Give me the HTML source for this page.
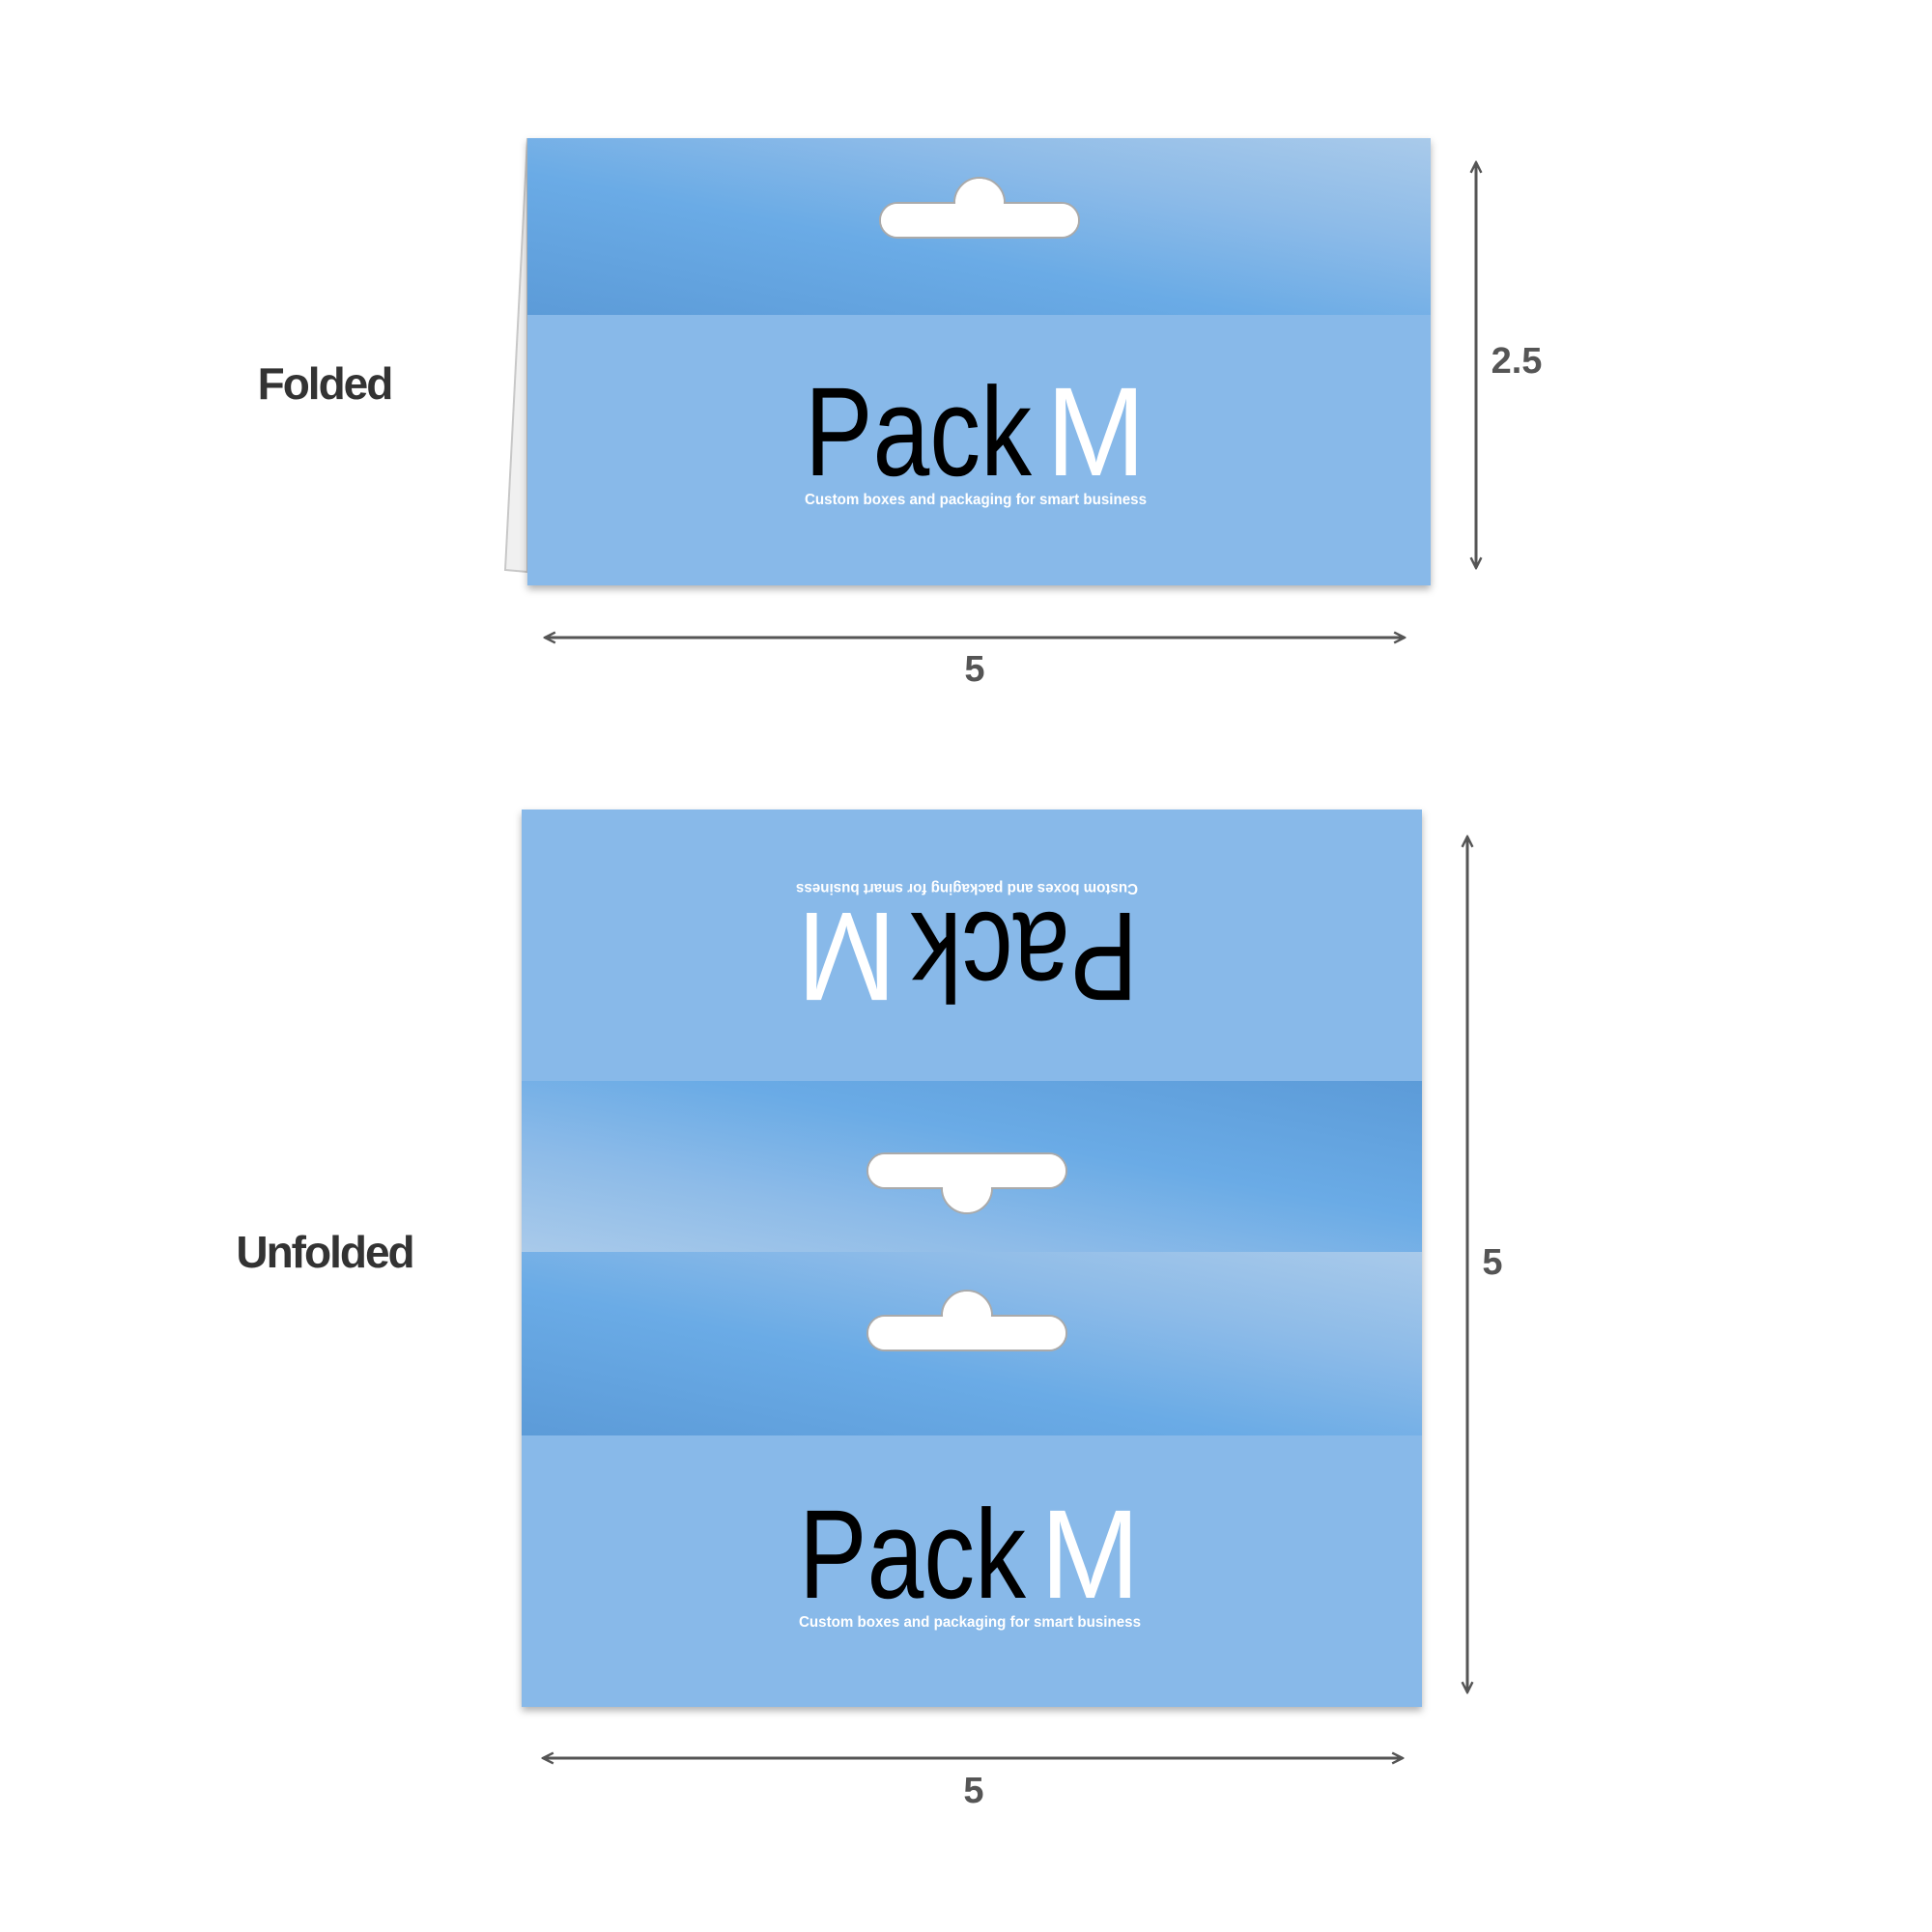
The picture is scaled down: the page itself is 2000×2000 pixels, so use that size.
<!DOCTYPE html>
<html><head><meta charset="utf-8"><style>html,body{margin:0;padding:0;background:#fff}svg{display:block}</style></head>
<body>
<svg width="2000" height="2000" viewBox="0 0 2000 2000" xmlns="http://www.w3.org/2000/svg">
<defs>
<linearGradient id="gA" x1="0" y1="1" x2="1" y2="0">
<stop offset="0" stop-color="#5c9bd8"/><stop offset="0.4" stop-color="#6aabe6"/><stop offset="0.7" stop-color="#8dbbe8"/><stop offset="1" stop-color="#a9caea"/>
</linearGradient>
<linearGradient id="gB" x1="0" y1="1" x2="1" y2="0">
<stop offset="0" stop-color="#a9caea"/><stop offset="0.3" stop-color="#8dbbe8"/><stop offset="0.6" stop-color="#6aabe6"/><stop offset="1" stop-color="#5c9bd8"/>
</linearGradient>
<filter id="sh" x="-5%" y="-5%" width="110%" height="115%"><feDropShadow dx="0" dy="4" stdDeviation="4" flood-color="#000" flood-opacity="0.3"/></filter>
<g id="logo">
<text x="0" y="0" font-family="Liberation Sans, sans-serif" font-size="131" fill="#000" textLength="235" lengthAdjust="spacingAndGlyphs">Pack</text>
<text x="250" y="0" font-family="Liberation Sans, sans-serif" font-size="131" fill="#fff" textLength="103" lengthAdjust="spacingAndGlyphs">M</text>
<text x="0" y="30" font-family="Liberation Sans, sans-serif" font-weight="bold" font-size="16" fill="#fff" textLength="354" lengthAdjust="spacingAndGlyphs">Custom boxes and packaging for smart business</text>
</g>
<g id="slot">
<circle cx="0" cy="-18" r="26" fill="#fff" stroke="#aaa" stroke-width="2"/>
<rect x="-103" y="-18" width="206" height="36" rx="18" fill="#fff" stroke="#aaa" stroke-width="2"/>
<circle cx="0" cy="-18" r="25" fill="#fff"/>
<rect x="-102" y="-17" width="204" height="34" rx="17" fill="#fff"/>
</g>
<marker id="ar" viewBox="0 0 10 10" refX="9" refY="5" markerWidth="4.5" markerHeight="4.5" orient="auto-start-reverse"><path d="M1,1 L9,5 L1,9" fill="none" stroke="#555" stroke-width="1.8"/></marker>
</defs>

<!-- Folded -->
<polygon points="546,143 546,592 523,590" fill="#f0f0f0" stroke="#c8c8c8" stroke-width="2"/>
<g filter="url(#sh)">
<rect x="546" y="143" width="935" height="463" fill="#88b9e9"/>
</g>
<rect x="546" y="143" width="935" height="183" fill="url(#gA)"/>
<use href="#slot" transform="translate(1014,228)"/>
<use href="#logo" transform="translate(833,492)"/>

<line x1="1528" y1="168" x2="1528" y2="588" stroke="#555" stroke-width="3" marker-start="url(#ar)" marker-end="url(#ar)"/>
<text x="1570" y="386" font-family="Liberation Sans, sans-serif" font-weight="bold" font-size="38" fill="#555" text-anchor="middle">2.5</text>
<line x1="564" y1="660" x2="1454" y2="660" stroke="#555" stroke-width="3" marker-start="url(#ar)" marker-end="url(#ar)"/>
<text x="1009" y="705" font-family="Liberation Sans, sans-serif" font-weight="bold" font-size="38" fill="#555" text-anchor="middle">5</text>
<text x="336" y="413" font-family="Liberation Sans, sans-serif" font-weight="bold" font-size="46" fill="#333" text-anchor="middle" letter-spacing="-2">Folded</text>

<!-- Unfolded -->
<g filter="url(#sh)">
<rect x="540" y="838" width="932" height="929" fill="#88b9e9"/>
</g>
<rect x="540" y="1119" width="932" height="177" fill="url(#gB)"/>
<rect x="540" y="1296" width="932" height="190" fill="url(#gA)"/>
<use href="#slot" transform="translate(1001,1212) scale(1,-1)"/>
<use href="#slot" transform="translate(1001,1380)"/>
<use href="#logo" transform="translate(1178,945) rotate(180)"/>
<use href="#logo" transform="translate(827,1654)"/>

<line x1="1519" y1="866" x2="1519" y2="1752" stroke="#555" stroke-width="3" marker-start="url(#ar)" marker-end="url(#ar)"/>
<text x="1545" y="1319" font-family="Liberation Sans, sans-serif" font-weight="bold" font-size="38" fill="#555" text-anchor="middle">5</text>
<line x1="562" y1="1820" x2="1452" y2="1820" stroke="#555" stroke-width="3" marker-start="url(#ar)" marker-end="url(#ar)"/>
<text x="1008" y="1866" font-family="Liberation Sans, sans-serif" font-weight="bold" font-size="38" fill="#555" text-anchor="middle">5</text>
<text x="336" y="1312" font-family="Liberation Sans, sans-serif" font-weight="bold" font-size="46" fill="#333" text-anchor="middle" letter-spacing="-2">Unfolded</text>
</svg>
</body></html>
